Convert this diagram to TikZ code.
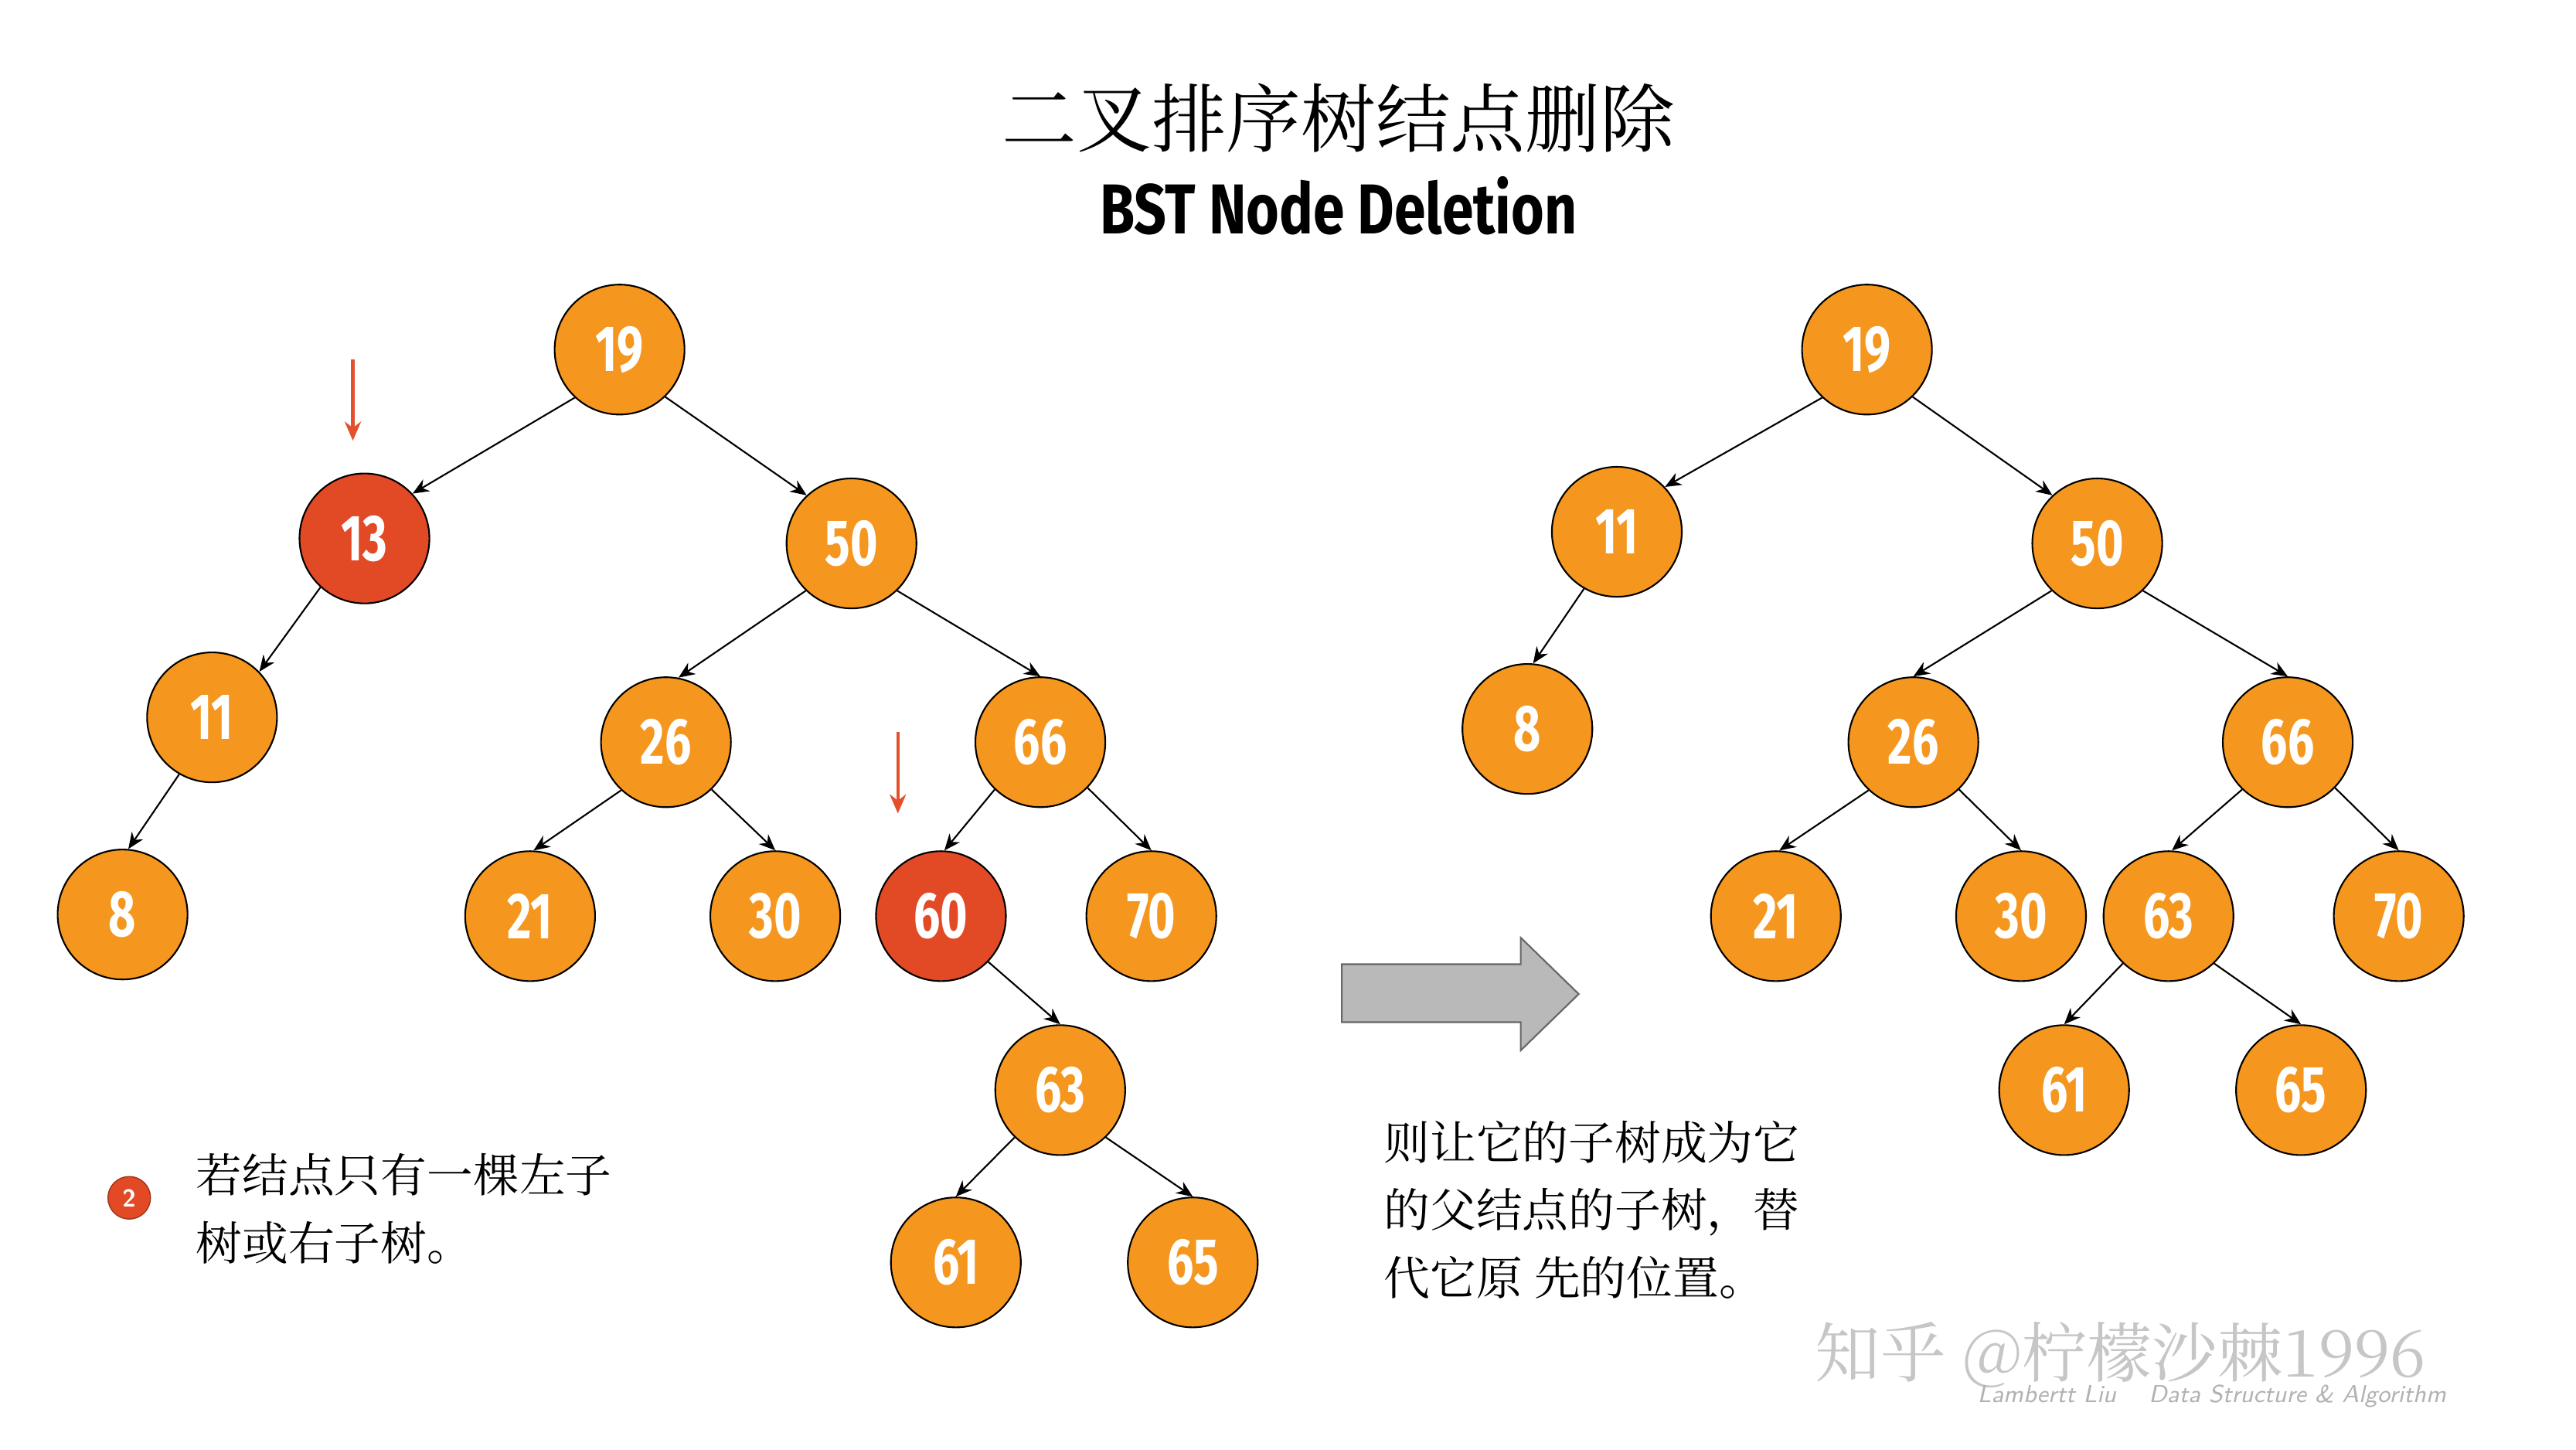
\documentclass[tikz,border=0pt]{standalone}
\usepackage{fontspec}
\newfontfamily\cjk{Noto Serif CJK SC}
\newfontfamily\cond{Fira Sans}
\usetikzlibrary{arrows.meta,shapes.arrows}
\definecolor{org}{HTML}{F5961E}
\definecolor{rd}{HTML}{E24A26}
\definecolor{arr}{HTML}{E4502C}
\tikzset{
 x=0.02143cm,y=-0.02143cm,
 bn/.style={circle,draw=black,line width=0.6pt,fill=org,minimum size=1.68cm,inner sep=0pt,text=white,font=\cond\bfseries\fontsize{24}{24}\selectfont},
 rn/.style={bn,fill=rd},
 ed/.style={-{Stealth[length=6pt,width=5pt]},line width=0.6pt},
 redmark/.style={-{Stealth[length=7pt,width=6pt]},arr,line width=1.2pt},
 body/.style={font=\cjk\fontsize{17}{25}\selectfont,align=left,anchor=north west,inner sep=0pt}
}
\newcommand{\nm}[1]{\scalebox{0.72}[1]{#1}}
\begin{document}
\begin{tikzpicture}
\useasboundingbox (0,0) rectangle (1555,875);
\fill[white] (0,0) rectangle (1555,875);
\node[font=\cjk\fontsize{27.5}{27.5}\selectfont] (t1) at (808,72) {二叉排序树结点删除};
\node[font=\cond\bfseries\fontsize{26}{26}\selectfont] (t2) at (808,124) {\scalebox{0.8}[1]{BST Node Deletion}};
% left tree
\node[bn] (a19) at (374,211) {\nm{19}};
\node[rn] (a13) at (220,325) {\nm{13}};
\node[bn] (a50) at (514,328) {\nm{50}};
\node[bn] (a11) at (128,433) {\nm{11}};
\node[bn] (a26) at (402,448) {\nm{26}};
\node[bn] (a66) at (628,448) {\nm{66}};
\node[bn] (a8) at (74,552) {\nm{8}};
\node[bn] (a21) at (320,553) {\nm{21}};
\node[bn] (a30) at (468,553) {\nm{30}};
\node[rn] (a60) at (568,553) {\nm{60}};
\node[bn] (a70) at (695,553) {\nm{70}};
\node[bn] (a63) at (640,658) {\nm{63}};
\node[bn] (a61) at (577,762) {\nm{61}};
\node[bn] (a65) at (720,762) {\nm{65}};
\foreach \p/\a/\c/\b in {a19/-133/a13/43,a19/-46/a50/133,a13/-132/a11/44,a11/-120/a8/85,a50/-134/a26/79,a50/-46/a66/90,a26/-133/a21/87,a26/-46/a30/90,a66/-134/a60/87,a66/-44/a70/90,a60/-44/a63/90,a63/-134/a61/90,a63/-46/a65/90}
  \draw[ed] (\p.\a) -- (\c.\b);
% right tree
\node[bn] (b19) at (1127,211) {\nm{19}};
\node[bn] (b11) at (976,321) {\nm{11}};
\node[bn] (b50) at (1266,328) {\nm{50}};
\node[bn] (b8) at (922,440) {\nm{8}};
\node[bn] (b26) at (1155,448) {\nm{26}};
\node[bn] (b66) at (1381,448) {\nm{66}};
\node[bn] (b21) at (1072,553) {\nm{21}};
\node[bn] (b30) at (1220,553) {\nm{30}};
\node[bn] (b63) at (1309,553) {\nm{63}};
\node[bn] (b70) at (1448,553) {\nm{70}};
\node[bn] (b61) at (1246,658) {\nm{61}};
\node[bn] (b65) at (1389,658) {\nm{65}};
\foreach \p/\a/\c/\b in {b19/-133/b11/43,b19/-46/b50/133,b11/-120/b8/85,b50/-134/b26/90,b50/-46/b66/90,b26/-133/b21/87,b26/-46/b30/90,b66/-134/b63/87,b66/-44/b70/90,b63/-134/b61/90,b63/-46/b65/90}
  \draw[ed] (\p.\a) -- (\c.\b);
% red markers
\coordinate (m1s) at (213,217); \coordinate (m1e) at (213,266);
\coordinate (m2s) at (542,442); \coordinate (m2e) at (542,491);
\draw[redmark] (m1s) -- (m1e);
\draw[redmark] (m2s) -- (m2e);
% big arrow
\draw[fill=gray!55,draw=gray!80!black,line width=0.6pt] (810,582) -- (918,582) -- (918,566) -- (953,600) -- (918,634) -- (918,617) -- (810,617) -- cycle;
% texts
\node[circle,fill=rd,draw=rd!70!black,minimum size=0.55cm,inner sep=0pt,text=white,font=\sffamily\bfseries\small] (badge) at (78,723) {2};
\node[body] (txl) at (118,696) {若结点只有一棵左子\\树或右子树。};
\node[body] (txr) at (835,676) {则让它的子树成为它\\的父结点的子树，替\\代它原 先的位置。};
% watermark
\node[font=\cjk\fontsize{24}{24}\selectfont,text=gray!45,anchor=west] (wm) at (1090,818) {知乎 @柠檬沙棘1996};
\node[font=\sffamily\itshape\fontsize{9}{9}\selectfont,text=gray!60,anchor=west] (wm2) at (1188,843) {Lambertt Liu\quad\ Data Structure \& Algorithm};
\end{tikzpicture}
\end{document}
